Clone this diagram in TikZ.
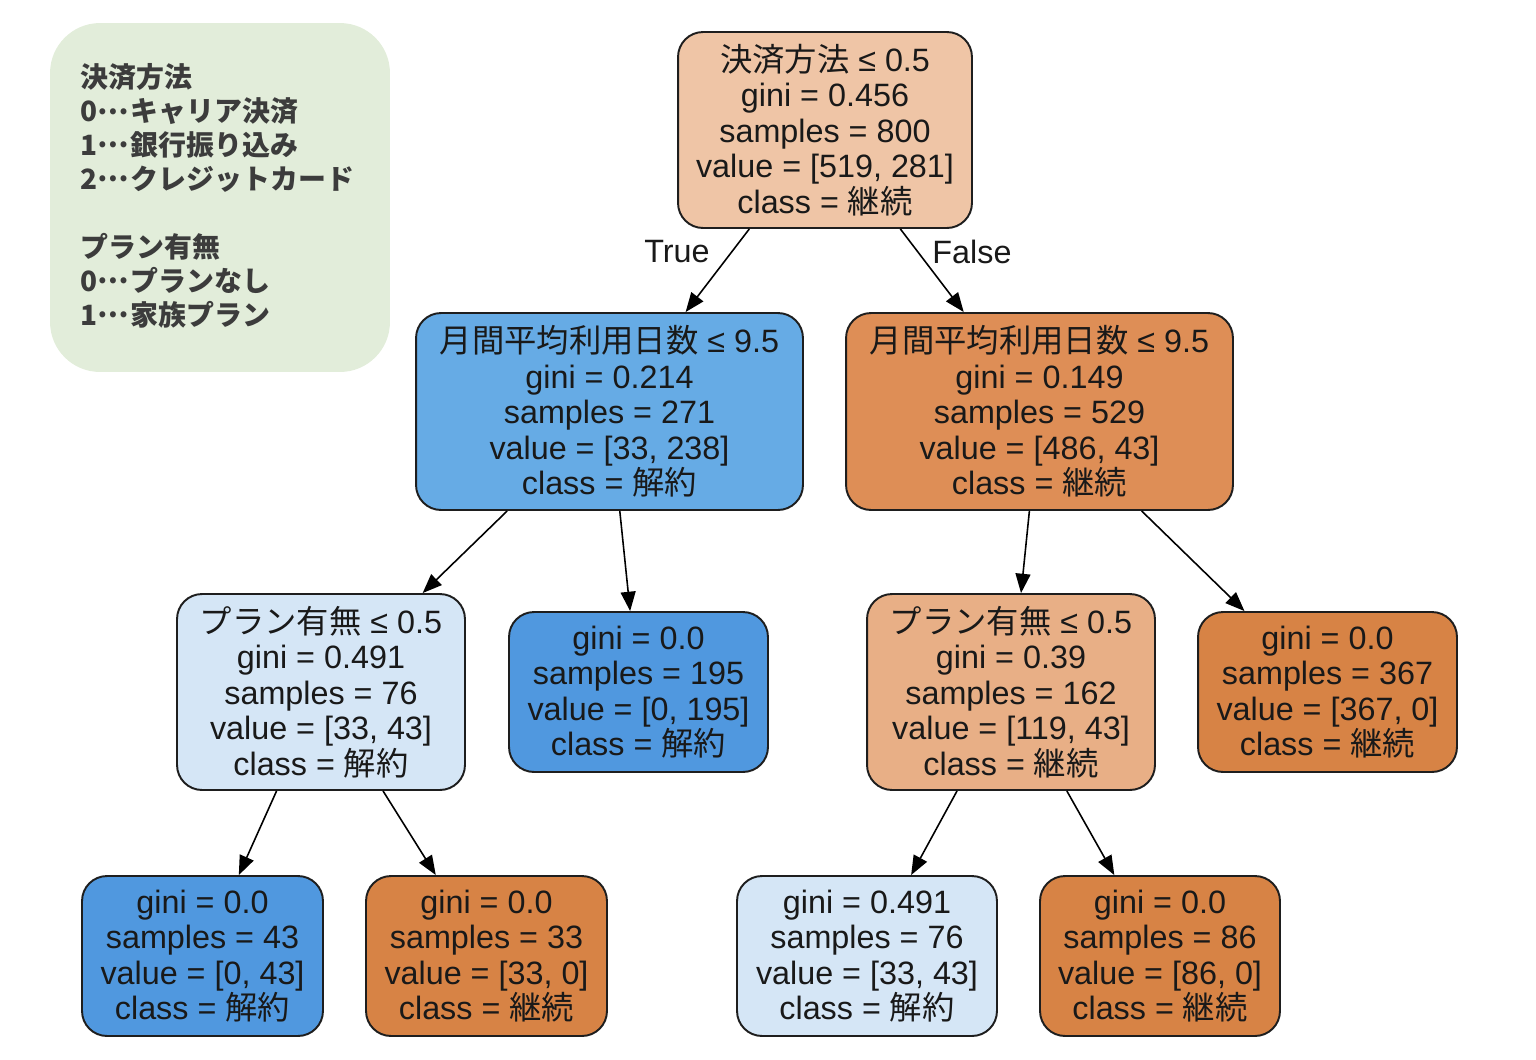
\documentclass[tikz,border=0pt]{standalone}
\usepackage{fontspec}
\setmainfont{Liberation Sans}
\newfontfamily\jp{Noto Sans CJK JP}
\newcommand\jdots{\raisebox{0.28em}{…}\hspace{0.08em}}
\usetikzlibrary{arrows.meta}
\definecolor{legfill}{RGB}{226,237,218}
\definecolor{legtext}{RGB}{60,60,60}
\definecolor{cRoot}{RGB}{239,197,166}
\definecolor{cBlueA}{RGB}{102,171,229}
\definecolor{cOrA}{RGB}{222,142,86}
\definecolor{cPaleBlue}{RGB}{213,230,246}
\definecolor{cBlue}{RGB}{80,152,223}
\definecolor{cOrB}{RGB}{232,175,134}
\definecolor{cOr}{RGB}{215,131,69}
\definecolor{edgegray}{RGB}{30,30,30}
\begin{document}
\begin{tikzpicture}[x=0.02cm,y=-0.02cm,
  tn/.style={draw=edgegray, line width=1.1pt, rounded corners=0.5cm, inner sep=0pt,
    align=center, font=\fontsize{18.4pt}{20.2pt}\selectfont, text=black!90},
  edge/.style={line width=0.9pt, -{Triangle[length=11pt,width=8.5pt]}},
  elab/.style={font=\fontsize{18.4pt}{20.2pt}\selectfont, text=black!90}
]
\useasboundingbox (0,0) rectangle (1536,1059);
% legend
\node[fill=legfill, rounded corners=1cm, minimum width=6.8cm, minimum height=6.98cm] (legend) at (220,197.5) {};
\node[anchor=west, align=left, inner sep=0pt, text=legtext,
  font=\jp\bfseries\fontsize{15.9pt}{19.3pt}\selectfont] (legtxt) at (80,196) {決済方法\\0\jdots キャリア決済\\1\jdots 銀行振り込み\\2\jdots クレジットカード\\[19.3pt]プラン有無\\0\jdots プランなし\\1\jdots 家族プラン};
% nodes
\node[tn, fill=cRoot, minimum width=5.88cm, minimum height=3.92cm] (root) at (825,130)
  {{\jp 決済方法} ≤ 0.5\\gini = 0.456\\samples = 800\\value = [519, 281]\\class = {\jp 継続}};
\node[tn, fill=cBlueA, minimum width=7.74cm, minimum height=3.94cm] (l1a) at (609.5,411.5)
  {{\jp 月間平均利用日数} ≤ 9.5\\gini = 0.214\\samples = 271\\value = [33, 238]\\class = {\jp 解約}};
\node[tn, fill=cOrA, minimum width=7.74cm, minimum height=3.94cm] (l1b) at (1039.5,411.5)
  {{\jp 月間平均利用日数} ≤ 9.5\\gini = 0.149\\samples = 529\\value = [486, 43]\\class = {\jp 継続}};
\node[tn, fill=cPaleBlue, minimum width=5.76cm, minimum height=3.92cm] (l2a) at (321,692)
  {{\jp プラン有無} ≤ 0.5\\gini = 0.491\\samples = 76\\value = [33, 43]\\class = {\jp 解約}};
\node[tn, fill=cBlue, minimum width=5.18cm, minimum height=3.2cm] (l2b) at (638.5,692)
  {gini = 0.0\\samples = 195\\value = [0, 195]\\class = {\jp 解約}};
\node[tn, fill=cOrB, minimum width=5.76cm, minimum height=3.92cm] (l2c) at (1011,692)
  {{\jp プラン有無} ≤ 0.5\\gini = 0.39\\samples = 162\\value = [119, 43]\\class = {\jp 継続}};
\node[tn, fill=cOr, minimum width=5.18cm, minimum height=3.2cm] (l2d) at (1327.5,692)
  {gini = 0.0\\samples = 367\\value = [367, 0]\\class = {\jp 継続}};
\node[tn, fill=cBlue, minimum width=4.82cm, minimum height=3.2cm] (l3a) at (202.5,956)
  {gini = 0.0\\samples = 43\\value = [0, 43]\\class = {\jp 解約}};
\node[tn, fill=cOr, minimum width=4.82cm, minimum height=3.2cm] (l3b) at (486.5,956)
  {gini = 0.0\\samples = 33\\value = [33, 0]\\class = {\jp 継続}};
\node[tn, fill=cPaleBlue, minimum width=5.2cm, minimum height=3.2cm] (l3c) at (867,956)
  {gini = 0.491\\samples = 76\\value = [33, 43]\\class = {\jp 解約}};
\node[tn, fill=cOr, minimum width=4.8cm, minimum height=3.2cm] (l3d) at (1160,956)
  {gini = 0.0\\samples = 86\\value = [86, 0]\\class = {\jp 継続}};
% edges
\draw[edge] (root) -- (l1a);
\draw[edge] (root) -- (l1b);
\draw[edge] (l1a) -- (l2a);
\draw[edge] (l1a) -- (l2b);
\draw[edge] (l1b) -- (l2c);
\draw[edge] (l1b) -- (l2d);
\draw[edge] (l2a) -- (l3a);
\draw[edge] (l2a) -- (l3b);
\draw[edge] (l2c) -- (l3c);
\draw[edge] (l2c) -- (l3d);
\node[elab] (ltrue) at (677,252) {True};
\node[elab] (lfalse) at (972,252) {False};
\end{tikzpicture}
\end{document}
